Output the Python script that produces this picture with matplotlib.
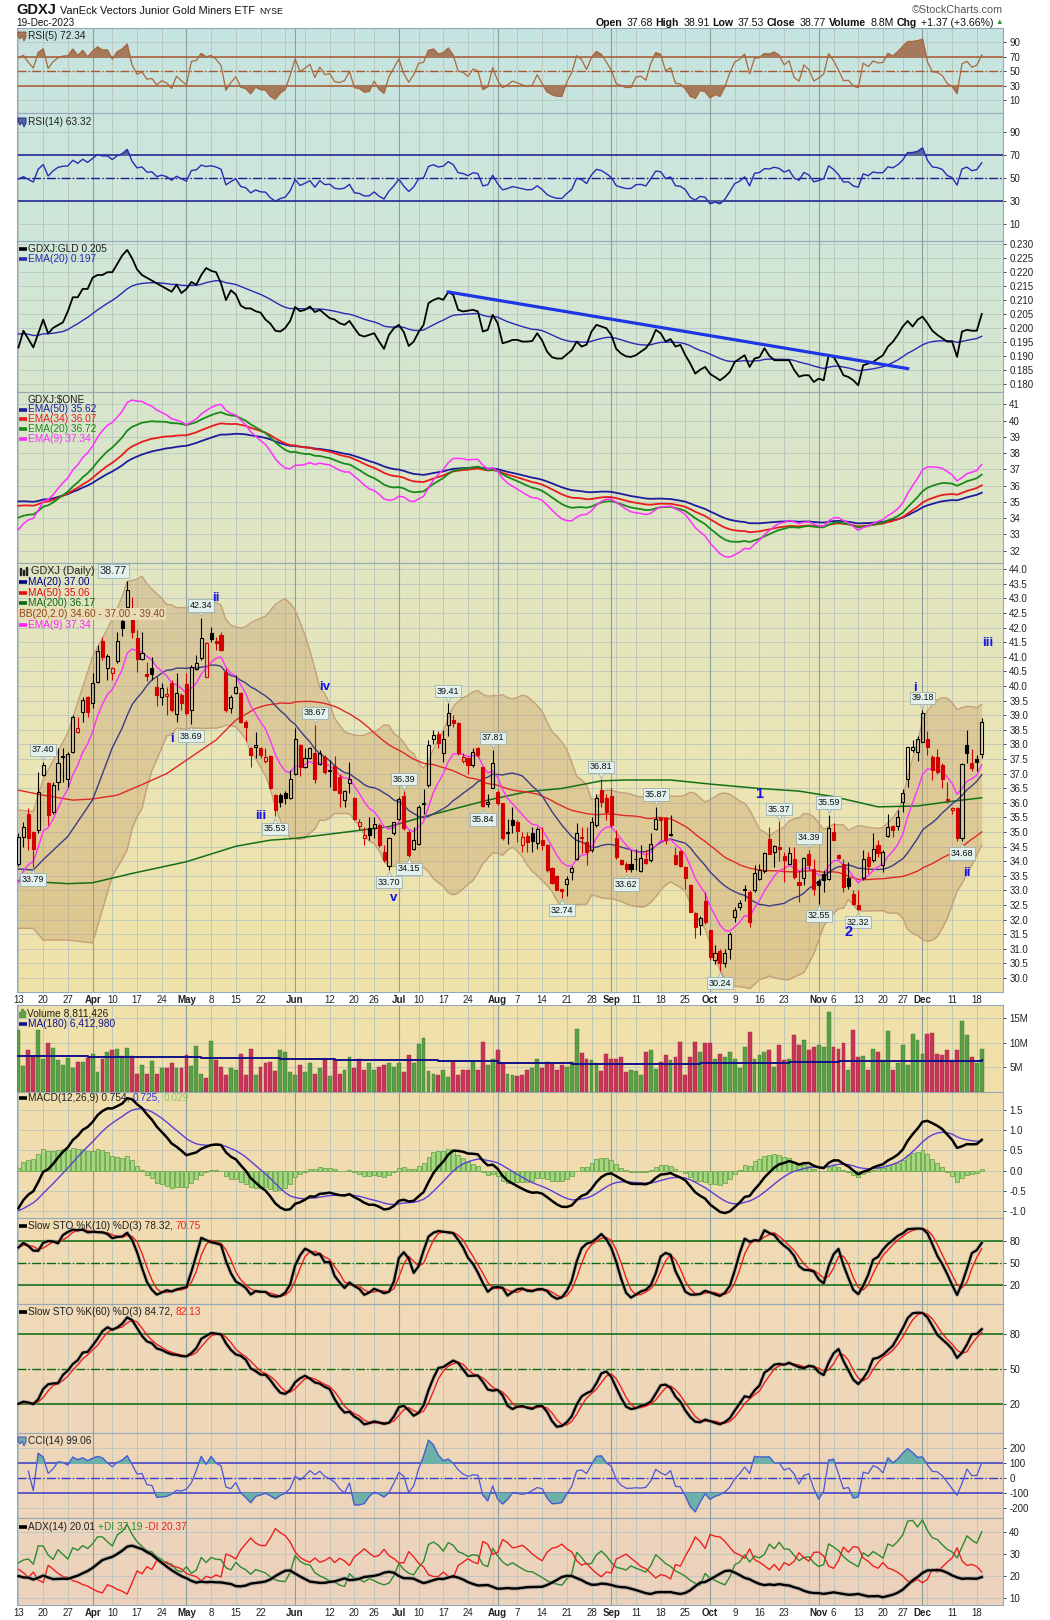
import numpy as np
import pandas as pd
import matplotlib
matplotlib.use('Agg')
import matplotlib.pyplot as plt
from matplotlib.transforms import offset_copy

plt.rcParams['font.family'] = ['Liberation Sans', 'DejaVu Sans']
plt.rcParams['axes.unicode_minus'] = False

# trading days on the chart, 13-Mar-2023 .. 19-Dec-2023
holidays = ['2023-04-07', '2023-05-29', '2023-06-19', '2023-07-04', '2023-09-04', '2023-11-23']
days = pd.bdate_range('2023-03-13', '2023-12-19')
days = days[~days.isin(pd.to_datetime(holidays))]

# GDXJ daily candles
opens = [33.89, 34.83, 35.63, 35.00, 35.06, 36.95, 36.66, 35.69, 36.72, 37.55,
         36.83, 37.75, 38.43, 39.12, 39.63, 39.40, 40.15, 41.54, 40.63, 40.46,
         40.86, 42.23, 42.69, 42.26, 41.63, 40.91, 40.40, 40.60, 39.98, 39.61,
         39.66, 40.09, 39.04, 39.69, 40.07, 39.18, 40.57, 40.95, 40.32, 41.80,
         41.54, 41.75, 40.49, 39.23, 39.77, 39.75, 38.75, 37.89, 37.90, 37.86,
         37.43, 37.60, 36.26, 36.26, 36.32, 36.15, 37.00, 37.98, 37.21, 37.54,
         37.69, 37.33, 37.58, 37.08, 37.26, 36.89, 36.09, 36.66, 36.18, 35.20,
         34.78, 35.12, 35.12, 35.23, 34.32, 33.83, 34.95, 35.46, 36.23, 35.00,
         34.43, 34.60, 35.95, 36.60, 38.17, 38.35, 37.71, 38.66, 38.83, 38.72,
         37.43, 37.52, 37.29, 37.86, 37.23, 35.95, 36.51, 36.38, 35.98, 35.00,
         35.40, 35.35, 34.55, 34.86, 34.95, 34.63, 34.72, 34.55, 33.75, 33.49,
         33.03, 33.23, 33.63, 34.06, 34.83, 34.66, 34.38, 35.23, 36.43, 36.15,
         36.24, 34.78, 34.03, 33.90, 33.90, 34.06, 33.66, 34.09, 34.03, 35.09,
         35.49, 35.49, 34.92, 34.20, 34.34, 33.81, 33.18, 32.21, 31.81, 32.64,
         31.63, 30.63, 30.93, 30.53, 31.00, 32.09, 32.43, 33.00, 32.95, 33.00,
         33.40, 33.67, 34.75, 34.32, 34.49, 34.17, 33.92, 34.06, 33.29, 33.44,
         34.24, 33.73, 33.31, 33.57, 33.40, 35.00, 34.20, 33.92, 33.41, 32.89,
         32.51, 33.41, 34.13, 34.03, 34.57, 33.86, 34.86, 35.20, 35.20, 36.03,
         36.80, 37.81, 37.75, 38.09, 38.17, 37.58, 37.58, 37.29, 36.14, 35.75,
         35.81, 34.81, 37.98, 37.35, 37.49, 37.68]
highs = [34.95, 35.35, 35.81, 35.05, 37.06, 37.40, 36.72, 36.72, 37.86, 37.86,
         37.75, 39.00, 38.95, 39.63, 39.66, 40.43, 41.40, 41.69, 41.10, 40.66,
         41.86, 42.46, 43.58, 43.03, 41.91, 41.86, 40.83, 41.00, 40.34, 40.09,
         39.97, 40.20, 40.43, 39.75, 40.43, 40.72, 41.06, 42.34, 41.52, 42.03,
         41.69, 41.86, 40.60, 39.69, 40.37, 39.80, 38.83, 37.92, 38.43, 37.92,
         37.86, 37.63, 36.31, 36.34, 36.40, 37.11, 38.55, 38.00, 37.86, 37.92,
         38.67, 37.80, 37.63, 37.46, 37.60, 37.00, 36.43, 37.40, 36.20, 35.46,
         35.17, 35.52, 35.52, 35.29, 34.55, 34.83, 35.35, 36.20, 36.39, 35.06,
         35.17, 35.92, 36.46, 38.15, 38.49, 38.46, 38.49, 39.41, 39.00, 38.78,
         37.69, 37.58, 37.86, 37.92, 37.23, 36.29, 37.81, 36.43, 36.00, 35.46,
         35.86, 35.40, 35.00, 35.00, 35.17, 35.17, 35.17, 34.60, 33.80, 33.52,
         33.06, 33.49, 33.83, 35.29, 35.17, 35.17, 35.52, 36.31, 36.81, 36.31,
         36.49, 35.06, 34.06, 33.98, 34.38, 34.43, 34.55, 34.38, 34.95, 35.87,
         35.52, 35.52, 35.58, 34.49, 34.38, 33.83, 33.23, 32.26, 32.12, 32.95,
         31.63, 31.12, 31.00, 31.00, 31.58, 32.43, 32.66, 33.20, 33.00, 33.86,
         33.92, 34.32, 35.17, 34.55, 35.37, 34.32, 34.49, 34.49, 33.69, 34.15,
         34.39, 34.09, 33.40, 33.69, 35.59, 35.29, 34.26, 34.09, 33.97, 33.00,
         33.00, 34.38, 34.32, 34.95, 34.72, 34.38, 35.63, 35.23, 35.75, 36.46,
         37.92, 38.15, 38.29, 39.18, 38.46, 37.63, 37.84, 37.35, 36.71, 35.86,
         35.86, 37.35, 38.49, 37.84, 37.63, 38.91]
lows = [33.85, 34.49, 34.38, 33.79, 34.95, 36.90, 35.23, 35.63, 36.43, 36.72,
        36.55, 37.70, 38.40, 38.78, 38.95, 39.23, 40.10, 40.89, 40.20, 40.20,
        40.78, 41.72, 42.66, 41.63, 40.49, 40.89, 40.17, 40.20, 39.31, 39.35,
        39.00, 39.12, 38.78, 39.18, 39.00, 38.69, 40.55, 40.89, 40.32, 41.52,
        41.23, 41.18, 39.12, 39.06, 39.71, 38.72, 38.10, 37.23, 37.52, 37.52,
        37.35, 36.47, 35.53, 35.86, 35.95, 36.12, 36.95, 36.91, 37.20, 37.49,
        36.69, 37.29, 37.00, 36.55, 36.43, 35.86, 35.86, 36.32, 35.40, 35.06,
        34.55, 34.72, 34.80, 34.49, 33.98, 33.70, 34.89, 35.40, 35.06, 34.15,
        34.38, 34.55, 35.63, 36.55, 38.00, 37.89, 37.40, 38.29, 38.60, 37.63,
        37.35, 37.00, 37.23, 37.58, 35.84, 35.85, 36.49, 35.92, 34.72, 34.60,
        34.95, 34.66, 34.32, 34.32, 34.32, 34.43, 34.38, 33.63, 33.23, 33.00,
        32.74, 32.80, 33.35, 34.03, 34.29, 33.86, 34.32, 35.17, 35.86, 35.40,
        35.17, 34.09, 33.86, 33.62, 33.63, 33.69, 33.64, 33.90, 33.98, 35.06,
        34.72, 34.60, 34.86, 33.86, 33.80, 33.06, 32.26, 31.38, 31.46, 31.86,
        30.63, 30.49, 30.24, 30.36, 30.66, 31.92, 32.32, 32.63, 31.75, 32.95,
        33.35, 33.60, 34.26, 33.80, 34.00, 33.29, 33.90, 33.40, 32.60, 33.18,
        33.69, 32.83, 32.55, 32.95, 33.35, 34.72, 34.09, 32.95, 33.03, 32.49,
        32.32, 33.35, 33.58, 33.98, 34.15, 33.63, 34.83, 34.83, 35.06, 35.69,
        36.55, 37.75, 37.43, 38.09, 37.63, 36.78, 37.00, 36.49, 36.00, 35.63,
        34.70, 34.68, 37.35, 37.10, 37.10, 37.53]
closes = [34.83, 35.18, 34.78, 34.43, 36.38, 37.29, 35.58, 36.60, 37.35, 37.60,
          37.66, 38.95, 38.55, 39.52, 39.12, 40.09, 41.18, 41.00, 41.02, 40.60,
          41.54, 42.00, 43.29, 41.86, 40.91, 41.12, 40.34, 40.40, 39.69, 39.92,
          39.71, 39.18, 39.75, 39.41, 39.06, 40.66, 40.78, 41.63, 41.46, 41.60,
          41.46, 41.23, 39.18, 39.63, 39.98, 38.78, 38.58, 37.63, 37.98, 37.63,
          37.58, 36.49, 35.75, 36.01, 36.15, 36.80, 38.17, 37.23, 37.52, 37.86,
          36.83, 37.71, 37.06, 37.12, 36.43, 36.32, 36.41, 36.83, 35.46, 35.35,
          34.88, 34.90, 35.26, 34.55, 34.03, 34.78, 35.35, 36.14, 35.12, 34.20,
          34.74, 35.86, 35.98, 37.98, 38.32, 38.03, 38.20, 39.06, 38.72, 37.69,
          37.58, 37.29, 37.73, 37.63, 35.88, 36.03, 37.37, 35.98, 34.78, 34.97,
          35.23, 35.03, 34.83, 34.66, 34.70, 35.09, 34.55, 33.69, 33.26, 33.00,
          32.97, 33.40, 33.78, 34.97, 34.80, 34.32, 35.35, 36.15, 36.01, 35.67,
          35.23, 34.15, 33.92, 33.72, 33.73, 34.09, 34.12, 33.94, 34.60, 35.46,
          35.40, 34.72, 34.89, 33.90, 33.83, 33.41, 32.26, 31.75, 32.07, 31.92,
          30.72, 30.86, 30.51, 30.86, 31.52, 32.32, 32.57, 33.06, 31.92, 33.58,
          33.69, 34.29, 34.26, 34.52, 34.40, 34.03, 34.29, 33.46, 33.18, 34.12,
          33.86, 33.03, 33.18, 33.37, 35.14, 34.74, 34.11, 33.12, 33.14, 32.55,
          32.36, 34.09, 33.83, 34.40, 34.29, 34.32, 35.17, 35.06, 35.52, 36.32,
          37.90, 37.92, 38.20, 39.09, 37.90, 37.12, 37.04, 36.83, 36.11, 35.83,
          34.78, 37.33, 37.69, 37.18, 37.40, 38.77]
# volume, millions of shares
volume_m = [12.7, 5.2, 8.5, 7.3, 12.7, 6.8, 9.9, 9.0, 6.5, 5.4,
            6.9, 4.8, 6.1, 6.1, 6.9, 7.8, 4.1, 6.8, 8.2, 8.5,
            8.8, 7.3, 9.0, 7.3, 3.7, 5.4, 3.6, 6.3, 3.7, 4.8,
            4.8, 6.0, 4.8, 4.8, 7.5, 5.2, 9.3, 3.6, 2.9, 10.3,
            6.5, 5.1, 3.4, 4.8, 4.4, 7.8, 3.5, 8.8, 3.4, 5.1,
            5.8, 6.1, 4.3, 8.6, 8.2, 4.1, 3.5, 5.4, 4.1, 5.8,
            3.7, 4.8, 6.5, 3.3, 6.5, 3.6, 4.4, 7.1, 4.8, 6.8,
            4.4, 5.8, 4.4, 5.1, 5.4, 5.8, 5.1, 5.8, 4.1, 7.5,
            5.8, 9.7, 10.9, 4.2, 3.6, 3.4, 4.4, 3.1, 6.3, 3.4,
            4.4, 4.4, 6.1, 4.4, 10.2, 5.4, 6.8, 8.5, 5.8, 3.7,
            3.4, 3.2, 3.4, 4.4, 4.8, 6.7, 4.8, 6.1, 5.8, 4.4,
            5.4, 5.1, 6.1, 12.9, 8.0, 6.8, 6.5, 5.8, 4.2, 7.8,
            6.8, 6.7, 7.1, 4.1, 4.4, 4.2, 3.4, 8.2, 8.5, 4.6,
            6.1, 7.5, 6.5, 7.1, 10.2, 3.4, 7.1, 10.2, 8.2, 9.9,
            9.9, 6.8, 7.8, 7.1, 8.2, 6.8, 4.8, 9.2, 12.2, 6.8,
            7.5, 8.2, 8.5, 5.1, 9.5, 6.5, 6.8, 11.6, 9.5, 10.5,
            8.5, 9.2, 9.5, 9.2, 16.3, 9.2, 8.8, 9.9, 4.4, 12.6,
            7.1, 7.3, 4.4, 8.8, 8.2, 6.5, 12.4, 4.4, 5.8, 9.5,
            5.4, 11.7, 10.5, 7.8, 11.8, 12.0, 7.8, 7.5, 8.5, 6.5,
            8.5, 14.4, 11.6, 7.1, 5.8, 8.81]
# GDXJ:GLD ratio
gdxj_gld = [0.1930, 0.1990, 0.1960, 0.1930, 0.1980, 0.2030, 0.1980, 0.2000, 0.2010, 0.2020,
            0.2060, 0.2110, 0.2110, 0.2140, 0.2140, 0.2180, 0.2190, 0.2190, 0.2200, 0.2200,
            0.2230, 0.2260, 0.2280, 0.2250, 0.2210, 0.2190, 0.2180, 0.2170, 0.2160, 0.2150,
            0.2140, 0.2130, 0.2155, 0.2125, 0.2140, 0.2165, 0.2155, 0.2190, 0.2215, 0.2205,
            0.2200, 0.2160, 0.2100, 0.2135, 0.2120, 0.2080, 0.2070, 0.2070, 0.2060, 0.2055,
            0.2030, 0.2015, 0.1990, 0.1987, 0.2000, 0.2025, 0.2075, 0.2060, 0.2065, 0.2077,
            0.2057, 0.2065, 0.2050, 0.2035, 0.2030, 0.2017, 0.2011, 0.2025, 0.1999, 0.1975,
            0.1969, 0.1975, 0.1981, 0.1951, 0.1925, 0.1975, 0.1999, 0.2011, 0.1985, 0.1935,
            0.1951, 0.1985, 0.2011, 0.2089, 0.2100, 0.2107, 0.2101, 0.2129, 0.2119, 0.2065,
            0.2059, 0.2062, 0.2065, 0.2059, 0.1987, 0.1993, 0.2047, 0.2017, 0.1945, 0.1950,
            0.1957, 0.1957, 0.1951, 0.1951, 0.1953, 0.1981, 0.1955, 0.1915, 0.1895, 0.1890,
            0.1890, 0.1905, 0.1920, 0.1951, 0.1933, 0.1940, 0.1987, 0.2011, 0.2005, 0.1999,
            0.1975, 0.1925, 0.1908, 0.1898, 0.1896, 0.1902, 0.1915, 0.1927, 0.1951, 0.1993,
            0.1981, 0.1951, 0.1960, 0.1933, 0.1939, 0.1902, 0.1872, 0.1836, 0.1850, 0.1860,
            0.1835, 0.1824, 0.1812, 0.1825, 0.1842, 0.1878, 0.1890, 0.1902, 0.1860, 0.1890,
            0.1895, 0.1927, 0.1900, 0.1884, 0.1884, 0.1884, 0.1884, 0.1850, 0.1825, 0.1830,
            0.1830, 0.1806, 0.1818, 0.1812, 0.1902, 0.1896, 0.1866, 0.1830, 0.1824, 0.1812,
            0.1794, 0.1866, 0.1872, 0.1878, 0.1890, 0.1902, 0.1933, 0.1950, 0.1975, 0.2005,
            0.2025, 0.2005, 0.2029, 0.2041, 0.2017, 0.1990, 0.1975, 0.1963, 0.1951, 0.1951,
            0.1896, 0.1987, 0.1993, 0.1990, 0.1990, 0.2050]

# long averages that reach back before the window
ma200_days = [0, 10, 15, 23, 34, 44, 51, 56, 75, 82, 95, 103, 110, 118, 123, 132, 140, 150, 158, 165, 174, 182, 188, 195]
ma200_vals = [33.33, 33.23, 33.26, 33.58, 33.98, 34.51, 34.72, 34.78, 35.18, 35.52, 36.09, 36.38,
              36.49, 36.75, 36.78, 36.78, 36.64, 36.49, 36.40, 36.21, 35.86, 35.89, 36.03, 36.17]
ma50_early_days = [0, 5, 11, 15, 20, 25, 30, 34, 40, 44, 48]
ma50_early_vals = [36.43, 36.26, 36.09, 36.13, 36.26, 36.62, 37.00, 37.46, 38.15, 38.83, 39.23]
bb_early_days = [0, 3, 5, 10, 15]
bb_early_mid = [33.73, 33.70, 34.05, 34.85, 36.10]
bb_early_up = [35.75, 35.70, 36.80, 38.40, 41.00]
bb_early_lo = [31.70, 31.70, 31.30, 31.30, 31.20]
volma_days = [0, 14, 37, 53, 64, 85, 97, 112, 123, 138, 156, 166, 195]
volma_vals = [7.35, 7.07, 6.94, 6.80, 6.60, 6.26, 5.99, 5.78, 5.65, 5.85, 6.12, 6.39, 6.41]

# indicator values at the left edge of the chart
ema_start = {50: 35.03, 34: 34.76, 20: 34.04, 9: 33.28}
ratio_ema_start = 0.1978
macd_start = (33.52, 34.45, -0.99)     # EMA12, EMA26, signal
rsi5_start = (0.50, 0.23)               # avg gain, avg loss
rsi14_start = (0.30, 0.31)
sto10_prior = (35.6, 32.9)              # high, low before the window
sto60_prior = (42.4, 32.9)
adx_start = (1.0, 0.26, 0.23, 20.0)     # ATR, +DM, -DM, ADX

trend_days = [87, 180]
trend_vals = [0.2129, 0.1854]
high_label_days = [5, 37, 60, 78, 87, 96, 118, 129, 154, 160, 164, 183]
low_label_days = [3, 35, 52, 75, 79, 94, 110, 123, 142, 162, 170, 191]
waves = [('i', 31, 38.17), ('ii', 40, 43.0), ('iii', 49, 35.54), ('iv', 62, 39.98), ('v', 76, 32.75),
         ('1', 150, 36.29), ('2', 168, 31.58), ('i', 181.5, 39.92), ('ii', 192, 33.58), ('iii', 196.3, 41.46)]

O, H, L, C = map(np.array, (opens, highs, lows, closes))
n = len(days)
for arr in (O, H, L, C, volume_m, gdxj_gld):
    assert len(arr) == n, len(arr)
x = np.arange(n)


def ema(s, span, start):
    a = 2.0 / (span + 1)
    out = np.empty(len(s))
    out[0] = start
    for t in range(1, len(s)):
        out[t] = out[t - 1] + a * (s[t] - out[t - 1])
    return out


def rsi(period, g0, l0):
    ag, al = g0, l0
    out = [100 - 100 / (1 + ag / al)]
    for t in range(1, n):
        d = C[t] - C[t - 1]
        ag = (ag * (period - 1) + max(d, 0)) / period
        al = (al * (period - 1) + max(-d, 0)) / period
        out.append(100 - 100 / (1 + ag / al))
    return np.array(out)


def slow_sto(look, prior):
    hh = pd.Series(np.r_[prior[0], H]).rolling(look, min_periods=1).max().values[1:]
    ll = pd.Series(np.r_[prior[1], L]).rolling(look, min_periods=1).min().values[1:]
    fast = 100 * (C - ll) / (hh - ll)
    k = pd.Series(fast).rolling(3, min_periods=1).mean().values
    d = pd.Series(k).rolling(3, min_periods=1).mean().values
    return k, d


rsi5 = rsi(5, *rsi5_start)
rsi14 = rsi(14, *rsi14_start)
ratio = np.array(gdxj_gld)
ratio_ema = ema(ratio, 20, ratio_ema_start)
emas = {k: ema(C, k, v) for k, v in ema_start.items()}

cs = pd.Series(C)
ma20 = cs.rolling(20).mean().values
sd20 = cs.rolling(20).std(ddof=0).values
ma50 = cs.rolling(50).mean().values
bb_x = np.r_[bb_early_days, x[19:]]
bb_mid = np.r_[bb_early_mid, ma20[19:]]
bb_up = np.r_[bb_early_up, ma20[19:] + 2 * sd20[19:]]
bb_lo = np.r_[bb_early_lo, ma20[19:] - 2 * sd20[19:]]
ma50_x = np.r_[ma50_early_days, x[49:]]
ma50_v = np.r_[ma50_early_vals, ma50[49:]]

macd = ema(C, 12, macd_start[0]) - ema(C, 26, macd_start[1])
signal = ema(macd, 9, macd_start[2])
hist = macd - signal
k10, d10 = slow_sto(10, sto10_prior)
k60, d60 = slow_sto(60, sto60_prior)

tp = pd.Series((H + L + C) / 3)
cci = ((tp - tp.rolling(14, min_periods=3).mean()) /
       (0.015 * tp.rolling(14, min_periods=3).apply(lambda w: np.abs(w - w.mean()).mean(), raw=True))).values

atr, pdm, mdm, adx = adx_start
pdi_l, mdi_l, adx_l = [100 * pdm / atr], [100 * mdm / atr], [adx]
for t in range(1, n):
    tr = max(H[t] - L[t], abs(H[t] - C[t - 1]), abs(L[t] - C[t - 1]))
    up, dn = H[t] - H[t - 1], L[t - 1] - L[t]
    atr += (tr - atr) / 14
    pdm += ((up if (up > dn and up > 0) else 0) - pdm) / 14
    mdm += ((dn if (dn > up and dn > 0) else 0) - mdm) / 14
    pdi, mdi = 100 * pdm / atr, 100 * mdm / atr
    adx += (100 * abs(pdi - mdi) / (pdi + mdi) - adx) / 14
    pdi_l.append(pdi); mdi_l.append(mdi); adx_l.append(adx)

prev_c = np.r_[O[0], C[:-1]]
up_day = C >= prev_c

# ---------------- figure ----------------
W, HT = 1050, 1620
AXW = 1003 - 17
fig = plt.figure(figsize=(W / 100, HT / 100), dpi=100, facecolor='white')
renderer = fig.canvas.get_renderer()
PT = 72 / fig.dpi
XL = (-0.3, 199.3)

grad_px = [0, 240, 392, 563, 780, 992, 1092, 1300, 1605]
grad_rgb = np.array([[196, 227, 226], [207, 231, 217], [215, 230, 205], [225, 229, 193], [235, 229, 180],
                     [240, 226, 168], [240, 222, 172], [240, 218, 182], [236, 210, 190]])

week_starts = [i for i in range(n) if i == 0 or days[i].weekday() < days[i - 1].weekday()]
month_starts = [i for i in range(1, n) if days[i].month != days[i - 1].month]
tick_pos, tick_lab = [], []
for i in sorted(set(week_starts) | set(month_starts)):
    if i in month_starts:
        tick_pos.append(i); tick_lab.append(days[i].strftime('%b'))
    elif not any(0 < abs(i - m) <= 2 for m in month_starts):
        tick_pos.append(i); tick_lab.append(str(days[i].day))


def panel(top, bot, ylim, ticks, fmt, labels=None):
    ax = fig.add_axes([17 / W, 1 - bot / HT, AXW / W, (bot - top) / HT])
    ax.hpx = bot - top
    ys = np.linspace(top, bot, 80)
    cols = np.stack([np.interp(ys, grad_px, grad_rgb[:, k]) for k in range(3)], axis=1) / 255
    ax.imshow(cols[:, None, :], extent=(0, 1, 0, 1), transform=ax.transAxes, aspect='auto',
              zorder=-10, interpolation='bilinear')
    ax.set_xlim(*XL)
    ax.set_ylim(*ylim)
    for i in week_starts:
        ax.axvline(i, color='#b9c3ba', lw=0.6, zorder=0.5)
    for i in month_starts:
        ax.axvline(i, color='#8e9e9a', lw=0.8, zorder=0.6)
    for t in ticks:
        ax.axhline(t, color='#bcc6c0', lw=0.6, zorder=0.5)
    ax.yaxis.tick_right()
    ax.set_yticks(ticks)
    ax.set_yticklabels(labels if labels else [fmt.format(t) for t in ticks])
    ax.tick_params(axis='y', labelsize=7, length=2.5, width=0.6, pad=2, colors='#222222')
    ax.set_xticks([])
    for s in ax.spines.values():
        s.set_color('#94a8b8'); s.set_linewidth(0.8)
    return ax


def date_axis(ax):
    ax.set_xticks(tick_pos)
    ax.set_xticklabels(tick_lab)
    ax.tick_params(axis='x', length=0, labelsize=7, pad=2, colors='#222222')
    for lab in ax.get_xticklabels():
        if not lab.get_text().isdigit():
            lab.set_fontweight('bold')


def to_axes(ax, px, py):
    return px / AXW, 1 - py / ax.hpx


def legend(ax, x_px, y_px, pieces, size=7.3, bbox=None, dash=None):
    xx = x_px
    if dash:
        (x0, yf), (x1, _) = to_axes(ax, xx, y_px), to_axes(ax, xx + 8, y_px)
        ax.plot([x0, x1], [yf, yf], transform=ax.transAxes, color=dash, lw=2.6,
                solid_capstyle='butt', clip_on=False, zorder=30)
        xx += 9
    for txt, col in pieces:
        t = ax.annotate(txt, xy=(0, 1), xycoords='axes fraction', xytext=(xx * PT, -y_px * PT),
                        textcoords='offset points', ha='left', va='center', fontsize=size,
                        color=col, zorder=30, bbox=bbox)
        xx += t.get_window_extent(renderer).width + 3


def area_icon(ax, x_px, y_px, face, edge):
    shape = [(0, 4), (0, 0), (2, -3), (4, 0), (6, -5), (8, -1), (8, 4)]
    pts = [to_axes(ax, x_px + dx, y_px - dy) for dx, dy in shape]
    ax.fill([p[0] for p in pts], [p[1] for p in pts], transform=ax.transAxes, facecolor=face,
            edgecolor=edge, lw=0.6, clip_on=False, zorder=30)


def bar_icon(ax, x_px, y_px, heights, colors, width=1.6, gap=2.4):
    for j, (hgt, c) in enumerate(zip(heights, colors)):
        x0, y0 = to_axes(ax, x_px + j * gap, y_px + 4)
        x1, y1 = to_axes(ax, x_px + j * gap + width, y_px + 4 - hgt)
        ax.fill([x0, x1, x1, x0], [y0, y0, y1, y1], transform=ax.transAxes, color=c,
                clip_on=False, zorder=30)


def hline_set(ax, solid, dashed, col):
    for v in solid:
        ax.axhline(v, color=col, lw=1.1, zorder=2)
    for v in dashed:
        ax.axhline(v, color=col, lw=1.0, ls='-.', zorder=2)


# RSI(5)
ax = panel(28, 113, (-8, 110), [10, 30, 50, 70, 90], '{:.0f}')
hline_set(ax, [70, 30], [50], '#a8582e')
ax.fill_between(x, rsi5, 70, where=rsi5 > 70, interpolate=True, color='#a57a5c', zorder=3)
ax.fill_between(x, rsi5, 30, where=rsi5 < 30, interpolate=True, color='#a57a5c', zorder=3)
ax.plot(x, rsi5, color='#a9693f', lw=0.9, zorder=4)
area_icon(ax, 1, 8, '#a57a5c', '#8a5030')
legend(ax, 11, 8, [('RSI(5) 72.34', '#202020')])

# RSI(14)
ax = panel(113, 241, (-5, 107), [10, 30, 50, 70, 90], '{:.0f}')
hline_set(ax, [70, 30], [50], '#1a1a90')
ax.fill_between(x, rsi14, 70, where=rsi14 > 70, interpolate=True, color='#56689a', zorder=3)
ax.fill_between(x, rsi14, 30, where=rsi14 < 30, interpolate=True, color='#56689a', zorder=3)
ax.plot(x, rsi14, color='#2a2ab4', lw=1.0, zorder=4)
area_icon(ax, 1, 9, '#56689a', '#1a1a90')
legend(ax, 11, 9, [('RSI(14) 63.32', '#202020')])

# GDXJ:GLD
ax = panel(241, 392, (0.177, 0.2312), list(np.arange(0.180, 0.2301, 0.005)), '{:.3f}')
ax.plot(x, ratio_ema, color='#2a2ab4', lw=1.0, zorder=3)
ax.plot(x, ratio, color='black', lw=1.3, zorder=4)
ax.plot(trend_days, trend_vals, color='#1f35e6', lw=2.3, zorder=5)
legend(ax, 2, 8, [('GDXJ:GLD 0.205', '#202020')], dash='black')
legend(ax, 2, 18, [('EMA(20) 0.197', '#2a2ab4')], dash='#2a2ab4')

# GDXJ:$ONE
ax = panel(392, 563, (31.24, 41.76), list(range(32, 42)), '{:.0f}')
one_cols = {50: '#1c1c9c', 34: '#e81c1c', 20: '#198a19', 9: '#ff30ff'}
for k in (50, 34, 20, 9):
    ax.plot(x, emas[k], color=one_cols[k], lw=1.3 if k != 9 else 1.1, zorder=3)
legend(ax, 11, 8, [('GDXJ:$ONE', '#202020')])
for j, (k, val) in enumerate([(50, '35.62'), (34, '36.07'), (20, '36.72'), (9, '37.34')]):
    legend(ax, 2, 17.5 + 9.7 * j, [(f'EMA({k}) {val}', one_cols[k])], dash=one_cols[k])

# price panel
ax = panel(563, 992, (29.52, 44.21), list(np.arange(30.0, 44.01, 0.5)), '{:.1f}')
ax.fill_between(bb_x, bb_lo, bb_up, color='#c49a64', alpha=0.36, lw=0, zorder=1)
ax.plot(bb_x, bb_up, color='#c2a07a', lw=1.0, zorder=1.5)
ax.plot(bb_x, bb_lo, color='#c2a07a', lw=1.0, zorder=1.5)
ax.plot(ma200_days, ma200_vals, color='#157015', lw=1.1, zorder=3)
ax.plot(ma50_x, ma50_v, color='#e02828', lw=1.0, zorder=3)
ax.plot(bb_x, bb_mid, color='#3c3c86', lw=1.0, zorder=3)
ax.plot(x, emas[9], color='#ff30ff', lw=1.0, zorder=3.5)
cols = np.where(up_day, '#000000', '#d40000')
body_lo = np.minimum(O, C)
body_hi = np.maximum(O, C)
ax.vlines(x, L, body_lo, color=cols, lw=0.8, zorder=5)
ax.vlines(x, body_hi, H, color=cols, lw=0.8, zorder=5)
faces = [c if C[i] < O[i] else 'none' for i, c in enumerate(cols)]
ax.bar(x, np.maximum(body_hi - body_lo, 0.03), bottom=body_lo, width=0.62, color=faces,
       edgecolor=cols, linewidth=0.8, zorder=6)
for above, lst in ((True, high_label_days), (False, low_label_days)):
    for i in lst:
        val = H[i] if above else L[i]
        tr = offset_copy(ax.transData, fig=fig, x=0, y=(3.2 if above else -3.2), units='points')
        ax.plot([i], [val], marker='v' if above else '^', ms=4, color='#e2f0ee', mec='#8fa8a8',
                mew=0.5, transform=tr, zorder=8)
        ax.annotate(f'{val:.2f}', xy=(i, val), xytext=(0, 5.5 if above else -5.5),
                    textcoords='offset points', ha='center', va='bottom' if above else 'top',
                    fontsize=6.5, color='#101010', zorder=9,
                    bbox=dict(boxstyle='square,pad=0.18', fc='#e2f0ee', ec='#8fa8a8', lw=0.5))
for txt, d, p in waves:
    big = txt in ('1', '2')
    ax.text(d, p, txt, color='#1414e6', fontsize=10.5 if big else 9.5, fontweight='bold',
            ha='center', va='center', zorder=9)
bar_icon(ax, 3, 8, [7, 5, 8], ['#202020', '#202020', '#202020'], width=1.4, gap=3)
legend(ax, 14, 8, [('GDXJ (Daily)', '#202020')], size=7.8)
legend(ax, 83, 8, [('38.77', '#202020')], size=7.8,
       bbox=dict(boxstyle='square,pad=0.15', fc='#e2f0ee', ec='#8fa8a8', lw=0.5))
legend(ax, 2, 18.8, [('MA(20) 37.00', '#000080')], dash='#000080')
legend(ax, 2, 29.6, [('MA(50) 35.06', '#e01010')], dash='#e01010')
legend(ax, 2, 40.4, [('MA(200) 36.17', '#116611')], dash='#116611')
legend(ax, 2, 51.2, [('BB(20,2.0) 34.60 - 37.00 - 39.40', '#8a4a1a')],
       bbox=dict(boxstyle='square,pad=0.1', fc='#e9dbb6', ec='none'))
legend(ax, 2, 62, [('EMA(9) 37.34', '#ff20ff')], dash='#ff20ff')
date_axis(ax)

# volume
ax = panel(1005, 1092, (0, 17.7), [5, 10, 15], '', labels=['5M', '10M', '15M'])
vcol = np.where(up_day, '#5a9e46', '#c7365a')
ecol = np.where(up_day, '#3f7d30', '#9a2444')
ax.bar(x, volume_m, width=0.78, color=vcol, edgecolor=ecol, linewidth=0.3, zorder=3)
ax.plot(volma_days, volma_vals, color='#10108c', lw=1.4, drawstyle='steps-post', zorder=4)
bar_icon(ax, 2, 8, [5, 8, 6], ['#5a9e46', '#5a9e46', '#5a9e46'])
legend(ax, 10, 8, [('Volume 8,811,426', '#202020')])
legend(ax, 2, 19, [('MA(180) 6,412,980', '#10108c')], dash='#10108c')

# MACD
ax = panel(1092, 1218, (-1.173, 1.946), [-1.0, -0.5, 0.0, 0.5, 1.0, 1.5], '{:.1f}')
ax.bar(x, hist, width=0.8, color='#a2d67f', edgecolor='#5c9c3c', linewidth=0.5, zorder=2)
ax.plot(x, signal, color='#5b3fd6', lw=1.0, zorder=3)
ax.plot(x, macd, color='black', lw=1.8, zorder=4)
legend(ax, 2, 6, [('MACD(12,26,9) 0.754,', '#202020'), ('0.725,', '#3030e0'), ('0.029', '#8cc46a')],
       dash='black')

# Slow STO 10
ax = panel(1218, 1304, (-5.9, 111.9), [20, 50, 80], '{:.0f}')
hline_set(ax, [80, 20], [50], '#0a6a0a')
ax.plot(x, k10, color='#9a9a9a', lw=3.0, alpha=0.5, zorder=3)
ax.plot(x, d10, color='#ee2020', lw=1.0, zorder=4)
ax.plot(x, k10, color='black', lw=1.6, zorder=5)
legend(ax, 2, 8, [('Slow STO %K(10) %D(3) 78.32,', '#202020'), ('70.75', '#ee2020')], dash='black')

# Slow STO 60
ax = panel(1304, 1433, (-4.8, 106), [20, 50, 80], '{:.0f}')
hline_set(ax, [80, 20], [50], '#0a6a0a')
ax.plot(x, k60, color='#9a9a9a', lw=3.0, alpha=0.5, zorder=3)
ax.plot(x, d60, color='#ee2020', lw=1.0, zorder=4)
ax.plot(x, k60, color='black', lw=1.6, zorder=5)
legend(ax, 2, 8, [('Slow STO %K(60) %D(3) 84.72,', '#202020'), ('82.13', '#ee2020')], dash='black')

# CCI
ax = panel(1433, 1518, (-265, 302), [-200, -100, 0, 100, 200], '{:.0f}')
hline_set(ax, [100, -100], [0], '#3a3ac8')
ax.fill_between(x, cci, 100, where=cci > 100, interpolate=True, color='#6cb0a8', zorder=3)
ax.fill_between(x, cci, -100, where=cci < -100, interpolate=True, color='#6cb0a8', zorder=3)
ax.plot(x, cci, color='#4a56d8', lw=0.9, zorder=4)
area_icon(ax, 1, 8, '#6cb0a8', '#3a3ac8')
legend(ax, 11, 8, [('CCI(14) 99.06', '#202020')])

# ADX
ax = panel(1518, 1605, (6.9, 46.3), [10, 20, 30, 40], '{:.0f}')
ax.plot(x, pdi_l, color='#2d8a2d', lw=1.0, zorder=3)
ax.plot(x, mdi_l, color='#ee2020', lw=1.0, zorder=3)
ax.plot(x, adx_l, color='#9a9a9a', lw=3.2, alpha=0.55, zorder=4)
ax.plot(x, adx_l, color='black', lw=1.7, zorder=5)
legend(ax, 2, 9, [('ADX(14) 20.01', '#202020'), ('+DI 37.19', '#2d8a2d'), ('-DI 20.37', '#ee2020')],
       dash='black')
date_axis(ax)


# header
def ftext(xp, yp, s, **kw):
    return fig.text(xp / W, 1 - yp / HT, s, va='center', **kw)


t = ftext(16, 10, 'GDXJ', fontsize=10.5, fontweight='bold', color='#111111')
xx = 16 + t.get_window_extent(renderer).width + 4
t = ftext(xx, 10.5, 'VanEck Vectors Junior Gold Miners ETF', fontsize=7.8, color='#111111')
xx += t.get_window_extent(renderer).width + 4
ftext(xx, 11, 'NYSE', fontsize=6.3, color='#111111')
ftext(16, 23, '19-Dec-2023', fontsize=7.2, color='#111111')
ftext(1003, 10, '\u00a9StockCharts.com', fontsize=7.8, color='#555555', ha='right')
pieces = [('Open', 'bold'), ('37.68', 'normal'), ('High', 'bold'), ('38.91', 'normal'),
          ('Low', 'bold'), ('37.53', 'normal'), ('Close', 'bold'), ('38.77', 'normal'),
          ('Volume', 'bold'), ('8.8M', 'normal'), ('Chg', 'bold'), ('+1.37 (+3.66%)', 'normal')]
xx = 1003
t = ftext(xx, 23, '\u25b2', fontsize=5.5, color='#2a9a2a', ha='right')
xx -= t.get_window_extent(renderer).width + 2
for s, wt in reversed(pieces):
    t = ftext(xx, 23, s, fontsize=7.6, fontweight=wt, color='#111111', ha='right')
    xx -= t.get_window_extent(renderer).width + (2.5 if wt == 'bold' else 4.5)

fig.savefig('out.png', dpi=100)
